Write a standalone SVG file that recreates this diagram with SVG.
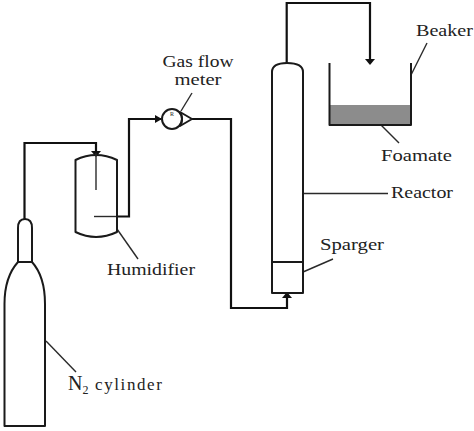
<svg xmlns="http://www.w3.org/2000/svg" width="474" height="431" viewBox="0 0 474 431">
<style>
.s{fill:none;stroke:#1a1a1a;stroke-width:2;stroke-linejoin:round}
.p{fill:none;stroke:#111;stroke-width:2.2;stroke-linejoin:miter}
.l{fill:none;stroke:#2a2a2a;stroke-width:1.4}
.a{fill:#111}
text{font-family:"Liberation Serif","Times New Roman",serif;font-size:17px;fill:#222}
.big{font-size:20px}
.sub{font-size:12px}
.wide{letter-spacing:1.6px}
.tiny{font-size:6px}
</style>
<rect width="474" height="431" fill="#fff"/>
<g id="connectors">
<path class="p" d="M24.500 219V143H96V153"/>
<path class="l" d="M94 216.500H117"/>
<path class="p" d="M117 216.500H129V119H161"/>
<path class="p" d="M192 119H231V308H287V296"/>
<path class="p" d="M286.700 63V3H370V60"/>
<path class="a" d="M91 151H101L96 157Z"/>
<path class="a" d="M155 115L162 119L155 123Z"/>
<path class="a" d="M282 298L287 292L292 298Z"/>
<path class="a" d="M365 59H375L370 65Z"/>
<path class="l" d="M117 229L138 259"/>
<path class="l" d="M181 111L192 93"/>
<path class="l" d="M411 75L427 43"/>
<path class="l" d="M381 125L399 143"/>
<path class="l" d="M303 193.500H388"/>
<path class="l" d="M303 272L333 259"/>
<path class="l" d="M46 341L76 372"/>
</g>
<g id="cylinder">
<path class="s" d="M18 262V228Q18 219 25 219Q32 219 32 228V262Z"/>
<path class="s" d="M18 262C9 272 4.500 286 4.500 304V426H45V304C45 286 41 272 32 262"/>
<text x="68" y="390"><tspan class="big">N</tspan><tspan class="sub" dy="4">2</tspan><tspan class="wide" dy="-4" x="95">cylinder</tspan></text>
</g>
<g id="humidifier">
<path class="s" d="M75.500 160Q96 150 117 160V232Q96 242 75.500 232Z"/>
<path class="l" d="M96 153V190"/>
<text x="107" y="275" textLength="88" lengthAdjust="spacingAndGlyphs">Humidifier</text>
</g>
<g id="meter">
<circle class="s" cx="172" cy="119" r="10"/>
<path class="s" d="M180 112L192 119L180 126Q184 119 180 112Z"/>
<text class="tiny" x="172" y="116" text-anchor="middle">R</text>
<text x="198" y="67" text-anchor="middle" textLength="71" lengthAdjust="spacingAndGlyphs">Gas flow</text>
<text x="198" y="85" text-anchor="middle" textLength="47" lengthAdjust="spacingAndGlyphs">meter</text>
</g>
<g id="reactor">
<path class="s" d="M272 293V72Q272 63 287 63Q303 63 303 72V293Z"/>
<text x="391" y="198" textLength="62" lengthAdjust="spacingAndGlyphs">Reactor</text>
</g>
<g id="sparger">
<path class="s" d="M272 262H303"/>
<text x="320" y="250" textLength="64" lengthAdjust="spacingAndGlyphs">Sparger</text>
</g>
<g id="beaker">
<rect x="329.500" y="105" width="81.500" height="20" fill="#8c8c8c"/>
<path class="s" d="M329.500 63V125H411V63"/>
<text x="416" y="36" textLength="57" lengthAdjust="spacingAndGlyphs">Beaker</text>
<text x="381" y="161" textLength="71" lengthAdjust="spacingAndGlyphs">Foamate</text>
</g>
</svg>
